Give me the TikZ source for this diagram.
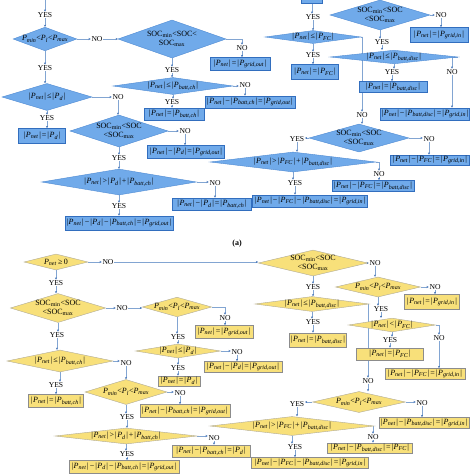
\documentclass[tikz,border=0pt]{standalone}
\usepackage{fontspec}
\setmainfont{Liberation Serif}
\usetikzlibrary{shapes.geometric,arrows.meta,backgrounds}
\definecolor{bfill}{RGB}{112,170,234}
\definecolor{bdraw}{RGB}{78,138,210}
\definecolor{bbox}{RGB}{50,110,190}
\definecolor{yfill}{RGB}{248,224,122}
\definecolor{ydraw}{RGB}{175,170,150}
\definecolor{yboxc}{RGB}{140,140,140}
\definecolor{conc}{RGB}{130,165,210}
\definecolor{tipc}{RGB}{60,110,180}
\newcommand\fP[1]{\textit{P}\textsubscript{\textit{#1}}}
\newcommand\fA[1]{|\kern.6pt\fP{#1}\kern.6pt|}
\newcommand\fS[1]{SOC\textsubscript{#1}}
\newcommand\fO[1]{\kern1pt#1\kern1pt}
\newcommand\fDia[6]{\pgfmathsetmacro\fAsp{#3/#4}\node[#5,minimum width=#3,minimum height=#4,aspect=\fAsp] (#1) at (#2) {#6};}
\newcommand\fBox[6]{\node[#5,minimum width=#3,minimum height=#4] (#1) at (#2) {#6};}
\newcommand\fLab[3]{\node[lbl] (#1) at (#2) {#3};}
\newcommand\cDn[2]{\draw[con] (#1.south) -- (#1.south |- #2.north);}
\newcommand\cRt[2]{\draw[con] (#1.east) -- (#1.east -| #2.west);}
\newcommand\cLt[2]{\draw[con] (#1.west) -- (#1.west -| #2.east);}
\newcommand\cRd[2]{\draw[con] (#1.east) -| (#2.north);}
\tikzset{
 base/.style={inner sep=0pt, align=center, font=\fontsize{8}{7.6}\selectfont},
 tdia/.style={base, shape=diamond, fill=bfill, draw=bdraw, line width=0.4pt},
 tbox/.style={base, rectangle, fill=bfill, draw=bbox, line width=0.7pt},
 ydia/.style={base, shape=diamond, fill=yfill, draw=ydraw, line width=0.4pt},
 ybox/.style={base, rectangle, fill=yfill, draw=yboxc, line width=0.7pt},
 soc/.style={font=\fontsize{8}{8.8}\selectfont},
 lbl/.style={inner sep=0.6pt, font=\fontsize{7.6}{8}\selectfont},
 con/.style={draw=conc, line width=0.5pt, -{Stealth[length=2.2pt,width=2pt,color=tipc]}},
}
\begin{document}
\begin{tikzpicture}[x=1pt,y=-1pt]
\useasboundingbox (0,0) rectangle (474,474);
\clip (0,0) rectangle (474,474);
% ---------------- top panel ----------------
\coordinate (T0) at (45,0);
\fLab{Y1}{45,15}{YES}
\fDia{D1}{45,39}{62}{23}{tdia}{\fP{min}<\fP{l}<\fP{max}}
\fLab{N1}{97,39}{NO}
\fDia{D2}{172,39}{108}{38}{tdia,soc}{\fS{min}<SOC<\\\fS{max}}
\fLab{Y2}{45,68}{YES}
\fDia{D3}{47,97}{90}{27}{tdia}{\fA{net}\fO{≤}\fA{d}}
\fLab{N3}{118,97}{NO}
\fLab{Y3}{47,118}{YES}
\fBox{B1}{42,136}{47}{15}{tbox}{\fA{net}\fO{=}\fA{d}}
\fDia{D4}{119,131}{98}{32}{tdia,soc}{\fS{min}<SOC\\<\fS{max}}
\fLab{N4}{185,131}{NO}
\fBox{B2}{186,152}{77}{13}{tbox}{\fA{net}\fO{−}\fA{d}\fO{=}\fA{grid,out}}
\fLab{Y4}{119,158}{YES}
\fDia{D5}{119,182}{155}{26}{tdia}{\fA{net}\fO{>}\fA{d}\fO{+}\fA{batt,ch}}
\fLab{N5}{215,183}{NO}
\fBox{B3}{212,204}{79}{12}{tbox}{\fA{net}\fO{−}\fA{d}\fO{=}\fA{batt,ch}}
\fLab{Y5}{119,206}{YES}
\fBox{B4}{119,223}{108}{14}{tbox}{\fA{net}\fO{−}\fA{d}\fO{−}\fA{batt,ch}\fO{=}\fA{grid,out}}
\fLab{N2}{242,48}{NO}
\fBox{B5}{240,64}{60}{13}{tbox}{\fA{net}\fO{=}\fA{grid,out}}
\fLab{Y6}{172,70}{YES}
\fDia{D6}{173,86}{120}{17}{tdia}{\fA{net}\fO{≤}\fA{batt,ch}}
\fLab{N6}{245,85}{NO}
\fBox{B6}{250,102}{90}{12}{tbox}{\fA{net}\fO{−}\fA{batt,ch}\fO{=}\fA{grid,out}}
\fLab{Y7}{172,102}{YES}
\fBox{B7}{174,114}{60}{12}{tbox}{\fA{net}\fO{=}\fA{batt,ch}}
\fBox{PB}{312,-4}{21}{14}{tbox}{}
\fLab{Y8}{313,17}{YES}
\fDia{D8}{313,37}{96}{13}{tdia}{\fA{net}\fO{≤}\fA{FC}}
\fLab{Y11}{313,55}{YES}
\fBox{B11}{315,72}{47}{15}{tbox}{\fA{net}\fO{=}\fA{FC}}
\fDia{D7}{380,15}{100}{30}{tdia,soc}{\fS{min}<SOC\\<\fS{max}}
\fLab{N7}{441,15}{NO}
\fBox{B8}{439,35}{58}{15}{tbox}{\fA{net}\fO{=}\fA{grid,in}}
\fLab{Y9}{382,42}{YES}
\fDia{D9}{394,57}{122}{13}{tdia}{\fA{net}\fO{≤}\fA{batt,disc}}
\fLab{Y10}{392,72}{YES}
\fBox{B9}{393,87}{68}{11}{tbox}{\fA{net}\fO{=}\fA{batt,disc}}
\fLab{N9}{452,72}{NO}
\fBox{B10}{425,114}{89}{12}{tbox}{\fA{net}\fO{−}\fA{batt,disc}\fO{=}\fA{grid,in}}
\fLab{N8}{362,115}{NO}
\fDia{D10}{359,138}{100}{28}{tdia,soc}{\fS{min}<SOC\\<\fS{max}}
\fLab{Y12}{297,139}{YES}
\fLab{N10}{429,139}{NO}
\fBox{B12}{430,160}{79}{10}{tbox}{\fA{net}\fO{−}\fA{FC}\fO{=}\fA{grid,in}}
\fDia{D11}{293,162}{166}{20}{tdia}{\fA{net}\fO{>}\fA{FC}\fO{+}\fA{batt,disc}}
\fLab{N11}{379,174}{NO}
\fBox{B13}{373,186}{82}{11}{tbox}{\fA{net}\fO{−}\fA{FC}\fO{=}\fA{batt,disc}}
\fLab{Y13}{295,183}{YES}
\fBox{B14}{310,201}{115}{12}{tbox}{\fA{net}\fO{−}\fA{FC}\fO{−}\fA{batt,disc}\fO{=}\fA{grid,in}}
\node[font=\bfseries\fontsize{8}{9}\selectfont] (capa) at (237,244) {(a)};
% ---------------- bottom panel ----------------
\fDia{E1}{56,262}{64}{16}{ydia}{\fP{net}\,≥\,0}
\fLab{M1}{108,262}{NO}
\fDia{E12}{313,263}{97}{23}{ydia,soc}{\fS{min}<SOC\\<\fS{max}}
\fLab{Z1}{56,283}{YES}
\fDia{E2}{58,308}{92}{28}{ydia,soc}{\fS{min}<SOC\\<\fS{max}}
\fLab{M2}{122,308}{NO}
\fDia{E3}{177,307}{67}{19}{ydia}{\fP{min}<\fP{l}<\fP{max}}
\fLab{M3}{225,318}{NO}
\fBox{F1}{224,332}{58}{13}{ybox}{\fA{net}\fO{=}\fA{grid,out}}
\fLab{Z2}{178,337}{YES}
\fDia{E4}{178,351}{85}{14}{ydia}{\fA{net}\fO{≤}\fA{d}}
\fLab{M4}{237,352}{NO}
\fBox{F2}{243,367}{78}{11}{ybox}{\fA{net}\fO{−}\fA{d}\fO{=}\fA{grid,out}}
\fLab{Z3}{178,368}{YES}
\fBox{F3}{179,381}{42}{10}{ybox}{\fA{net}\fO{=}\fA{d}}
\fLab{Z4}{57,335}{YES}
\fDia{E5}{60,361}{106}{22}{ydia}{\fA{net}\fO{≤}\fA{batt,ch}}
\fLab{M5}{126,363}{NO}
\fDia{E6}{126,392}{82}{25}{ydia}{\fP{min}<\fP{l}<\fP{max}}
\fLab{M6}{180,393}{NO}
\fBox{F4}{185,411}{90}{13}{ybox}{\fA{net}\fO{−}\fA{batt,ch}\fO{=}\fA{grid,out}}
\fLab{Z5}{56,385}{YES}
\fBox{F5}{56,401}{55}{13}{ybox}{\fA{net}\fO{=}\fA{batt,ch}}
\fLab{Z6}{127,417}{YES}
\fDia{E7}{126,436}{142}{16}{ydia}{\fA{net}\fO{>}\fA{d}\fO{+}\fA{batt,ch}}
\fLab{M7}{214,438}{NO}
\fBox{F6}{211,451}{78}{12}{ybox}{\fA{net}\fO{−}\fA{batt,ch}\fO{=}\fA{d}}
\fLab{Z7}{127,454}{YES}
\fBox{F7}{124,467}{110}{13}{ybox}{\fA{net}\fO{−}\fA{d}\fO{−}\fA{batt,ch}\fO{=}\fA{grid,out}}
\fLab{M8}{375,263}{NO}
\fDia{E13}{378,287}{85}{20}{ydia}{\fP{min}<\fP{l}<\fP{max}}
\fLab{M9}{435,287}{NO}
\fBox{F8}{432,302}{55}{15}{ybox}{\fA{net}\fO{=}\fA{grid,in}}
\fLab{Z8}{313,287}{YES}
\fDia{E14}{312,304}{114}{15}{ydia}{\fA{net}\fO{≤}\fA{batt,disc}}
\fLab{Z9}{381,309}{YES}
\fDia{E15}{392,325}{82}{13}{ydia}{\fA{net}\fO{<}\fA{FC}}
\fLab{Z10}{390,340}{YES}
\fBox{F9}{390,354}{67}{12}{ybox}{\fA{net}\fO{=}\fA{FC}}
\fLab{M10}{439,338}{NO}
\fBox{F10}{425,374}{80}{11}{ybox}{\fA{net}\fO{−}\fA{FC}\fO{=}\fA{grid,in}}
\fLab{Z11}{313,322}{YES}
\fBox{F11}{318,340}{57}{14}{ybox}{\fA{net}\fO{=}\fA{batt,disc}}
\fLab{M11}{368,381}{NO}
\fDia{E16}{359,402}{93}{21}{ydia}{\fP{min}<\fP{l}<\fP{max}}
\fLab{M12}{422,403}{NO}
\fBox{F12}{424,423}{90}{11}{ybox}{\fA{net}\fO{−}\fA{batt,disc}\fO{=}\fA{grid,in}}
\fLab{Z12}{297,404}{YES}
\fDia{E17}{292,426}{164}{19}{ydia}{\fA{net}\fO{>}\fA{FC}\fO{+}\fA{batt,disc}}
\fLab{M13}{373,437}{NO}
\fBox{F13}{370,448}{85}{10}{ybox}{\fA{net}\fO{−}\fA{batt,disc}\fO{=}\fA{FC}}
\fLab{Z13}{295,447}{YES}
\fBox{F14}{310,463}{117}{11}{ybox}{\fA{net}\fO{−}\fA{FC}\fO{−}\fA{batt,disc}\fO{=}\fA{grid,in}}
% ---------------- connectors ----------------
\begin{scope}[on background layer]
\draw[con] (T0) -- (Y1.north);
\cDn{Y1}{D1}
\cRt{D1}{N1}\cRt{N1}{D2}
\cDn{D1}{Y2}\cDn{Y2}{D3}
\cRt{D3}{N3}\cDn{N3}{D4}
\cDn{D3}{Y3}\cDn{Y3}{B1}
\cRt{D4}{N4}\cDn{N4}{B2}
\cDn{D4}{Y4}\cDn{Y4}{D5}
\cRt{D5}{N5}\cDn{N5}{B3}
\cDn{D5}{Y5}\cDn{Y5}{B4}
\cRd{D2}{N2}\cDn{N2}{B5}
\cDn{D2}{Y6}\cDn{Y6}{D6}
\cRt{D6}{N6}\cDn{N6}{B6}
\cDn{D6}{Y7}\cDn{Y7}{B7}
\cDn{PB}{Y8}\cDn{Y8}{D8}
\cDn{D8}{Y11}\cDn{Y11}{B11}
\cRd{D8}{N8}\cDn{N8}{D10}
\cRt{D7}{N7}\cDn{N7}{B8}
\cDn{D7}{Y9}\cDn{Y9}{D9}
\cDn{D9}{Y10}\cDn{Y10}{B9}
\cRd{D9}{N9}\cDn{N9}{B10}
\cLt{D10}{Y12}\cDn{Y12}{D11}
\cRt{D10}{N10}\cDn{N10}{B12}
\cRd{D11}{N11}\cDn{N11}{B13}
\cDn{D11}{Y13}\cDn{Y13}{B14}
% bottom
\cRt{E1}{M1}\cRt{M1}{E12}
\cDn{E1}{Z1}\cDn{Z1}{E2}
\cRt{E2}{M2}\cRt{M2}{E3}
\cRd{E3}{M3}\cDn{M3}{F1}
\cDn{E3}{Z2}\cDn{Z2}{E4}
\cRt{E4}{M4}\cDn{M4}{F2}
\cDn{E4}{Z3}\cDn{Z3}{F3}
\cDn{E2}{Z4}\cDn{Z4}{E5}
\cRt{E5}{M5}\cDn{M5}{E6}
\cDn{E5}{Z5}\cDn{Z5}{F5}
\cRt{E6}{M6}\cDn{M6}{F4}
\cDn{E6}{Z6}\cDn{Z6}{E7}
\cRt{E7}{M7}\cDn{M7}{F6}
\cDn{E7}{Z7}\cDn{Z7}{F7}
\cRt{E12}{M8}\cDn{M8}{E13}
\cRt{E13}{M9}\cDn{M9}{F8}
\cDn{E12}{Z8}\cDn{Z8}{E14}
\cDn{E13}{Z9}\cDn{Z9}{E15}
\cRd{E15}{M10}\cDn{M10}{F10}
\cDn{E15}{Z10}\cDn{Z10}{F9}
\cDn{E14}{Z11}\cDn{Z11}{F11}
\cRd{E14}{M11}\cDn{M11}{E16}
\cRt{E16}{M12}\cDn{M12}{F12}
\cLt{E16}{Z12}\cDn{Z12}{E17}
\cRd{E17}{M13}\cDn{M13}{F13}
\cDn{E17}{Z13}\cDn{Z13}{F14}
\end{scope}
\end{tikzpicture}
\end{document}
